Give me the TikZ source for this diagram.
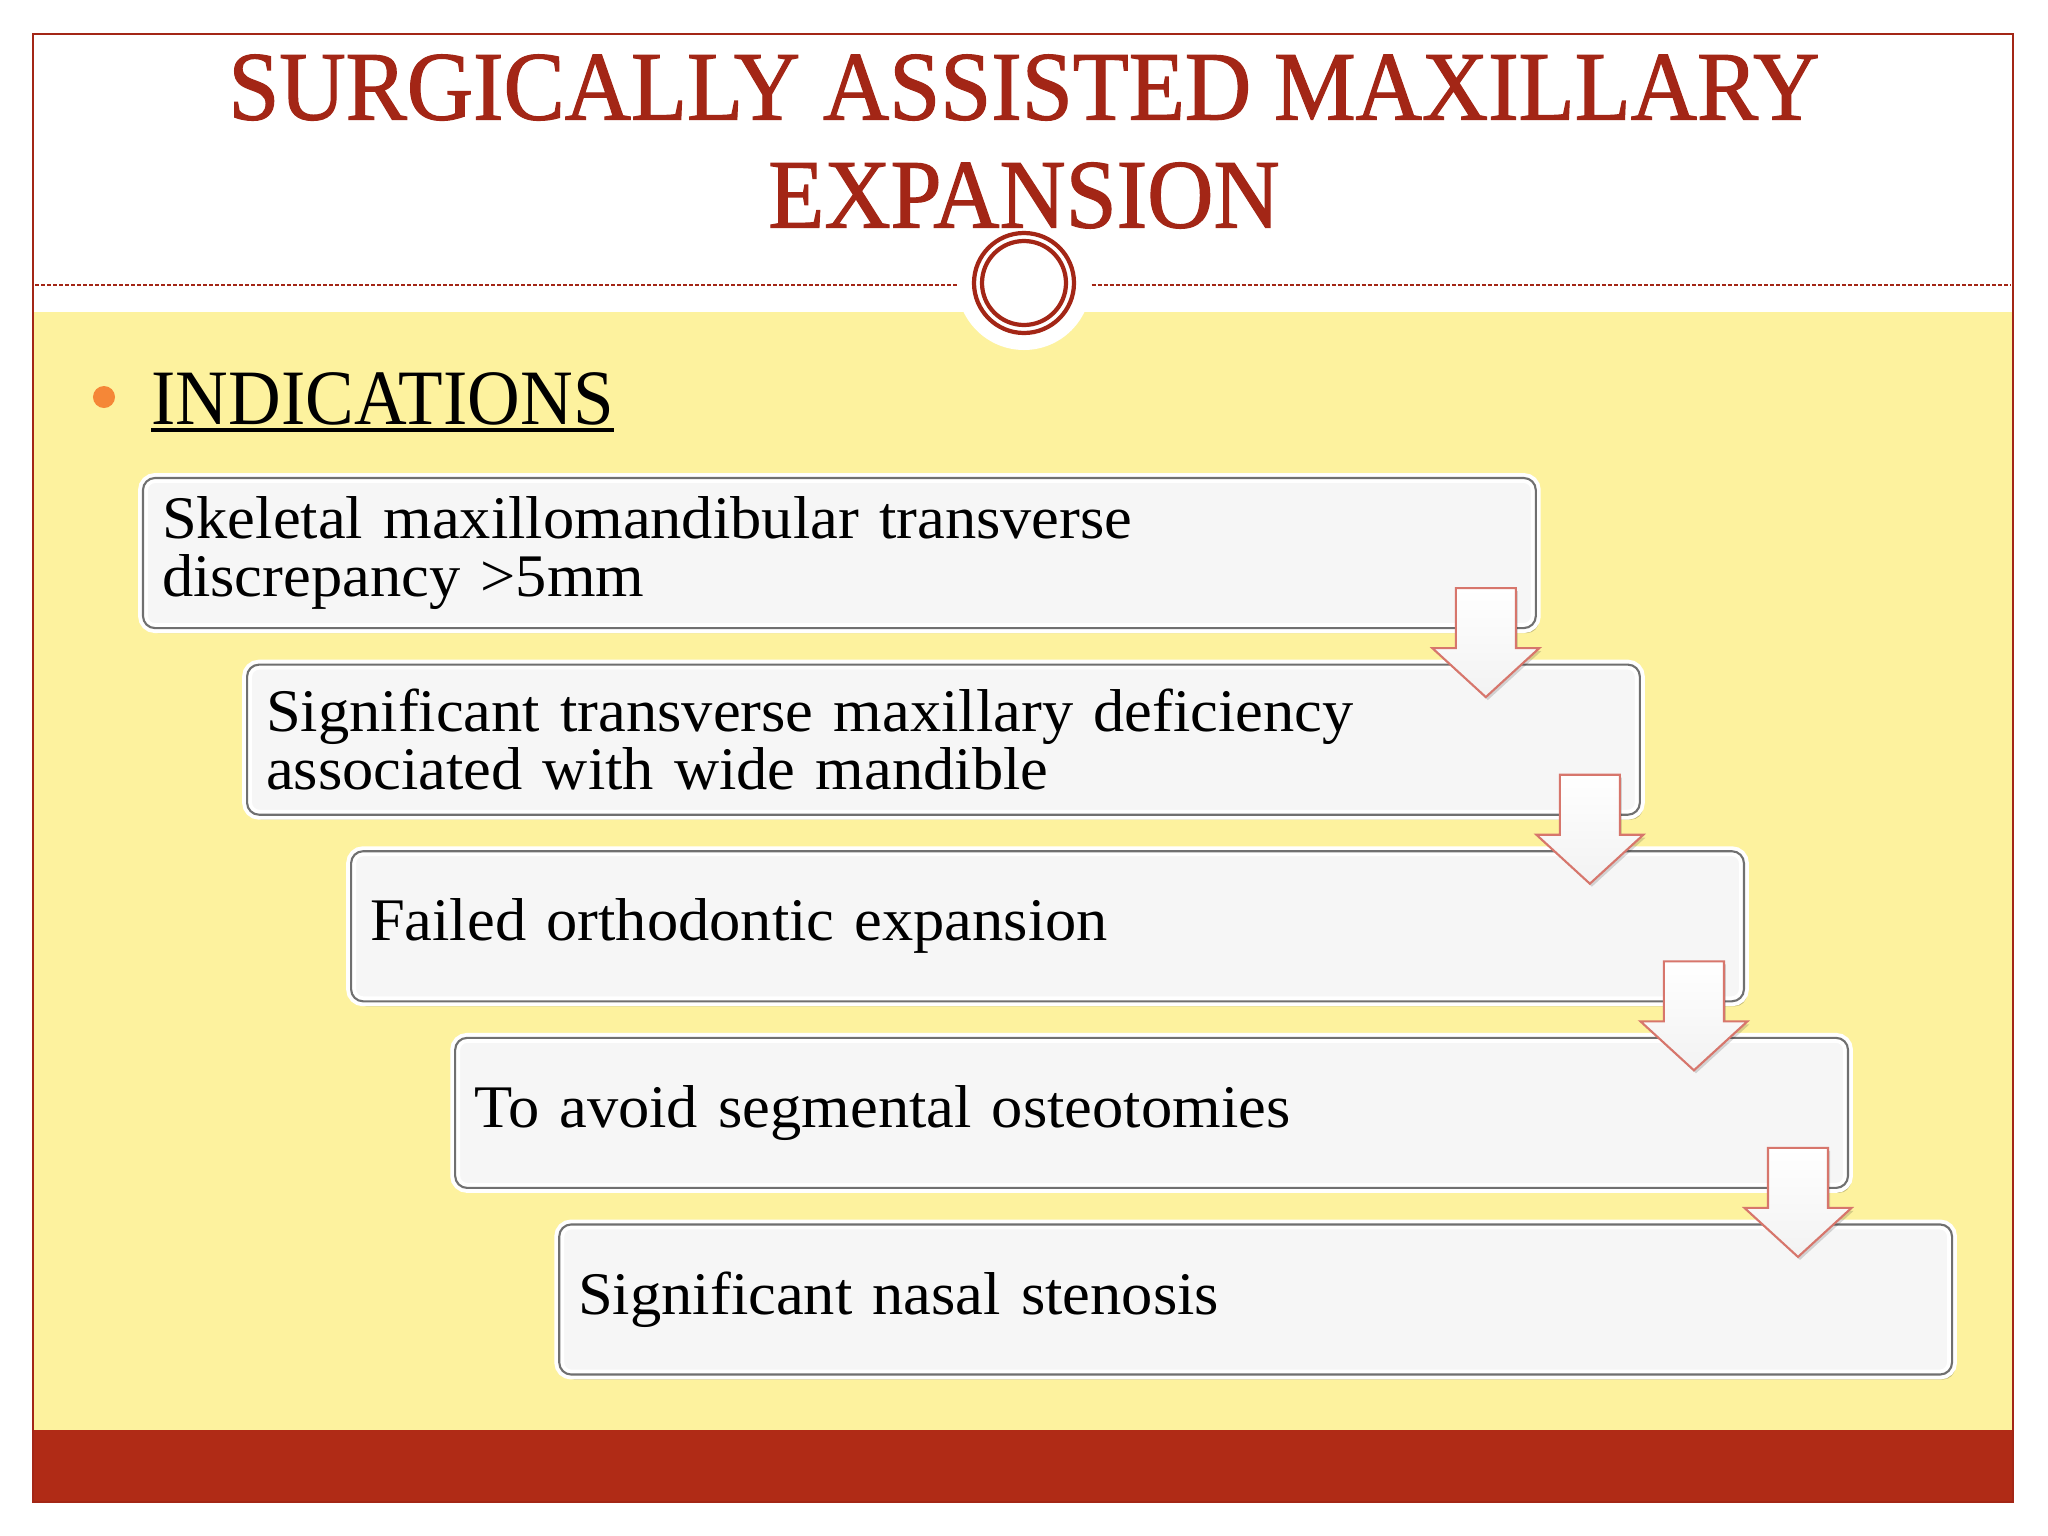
\documentclass[tikz,border=0pt]{standalone}
\usepackage{fontspec}
\setmainfont{Liberation Serif}
\newfontfamily\titlefont[FakeStretch=0.935,FakeBold=1.2]{Liberation Serif}
\newfontfamily\headfont[FakeStretch=0.93]{Liberation Serif}
\newfontfamily\bodyfont[FakeStretch=1.033]{Liberation Serif}
\usetikzlibrary{positioning,calc,shadows}
\definecolor{slidered}{RGB}{163,38,22}
\definecolor{barred}{RGB}{176,43,22}
\definecolor{slideyellow}{RGB}{253,242,158}
\definecolor{dotorange}{RGB}{245,135,55}
\definecolor{boxfill}{RGB}{246,246,246}
\definecolor{boxline}{RGB}{112,112,112}
\definecolor{arrowline}{RGB}{215,118,108}
\lineskiplimit=-10pt

\begin{document}
\begin{tikzpicture}[x=0.01cm,y=-0.01cm,
    stepbox/.style={rectangle,rounded corners=0.12cm,draw=white,double=boxline,double distance=0.6pt,line width=1.1pt,
      fill=boxfill,minimum width=13.92cm,minimum height=1.5cm,text width=13.54cm,inner xsep=0.19cm,inner ysep=0pt,
      outer sep=0pt,align=left,anchor=north west,font=\bodyfont\fontsize{17.2}{16.4}\selectfont,
      drop shadow={shadow xshift=0.03cm,shadow yshift=-0.05cm,opacity=0.22,fill=black}},
    flowarrow/.style={draw=arrowline,line width=0.6pt,top color=white,bottom color=black!5,
      drop shadow={shadow xshift=0.02cm,shadow yshift=-0.03cm,opacity=0.15,fill=black}}]
  \useasboundingbox (0,0) rectangle (2048,1536);
  \fill[white] (0,0) rectangle (2048,1536);
  % slide background
  \fill[slideyellow] (33,312) rectangle (2013,1430);
  \fill[barred] (33,1430) rectangle (2013,1502);
  \draw[slidered,line width=0.6pt] (33,34) rectangle (2013,1502);
  \draw[slidered,line width=0.45pt,dash pattern=on 0.04cm off 0.02cm] (35,285) -- (2011,285);
  \fill[white] (1024,283) circle (67);
  \draw[slidered,line width=1.2pt] (1024,283) circle (50);
  \draw[slidered,line width=1.2pt] (1024,283) circle (42);
  \node[align=center,inner sep=0pt,text=slidered,font=\titlefont\fontsize{27.9}{30.7}\selectfont] (title) at (1024,141.5)
    {SURGICALLY ASSISTED MAXILLARY\\EXPANSION};
  % heading
  \node[circle,fill=dotorange,minimum size=0.22cm,inner sep=0pt] (dot) at (104,397) {};
  \node[anchor=base west,inner sep=0pt,font=\headfont\fontsize{22.3}{24}\selectfont] (indic) at (151,424) {INDICATIONS};
  \draw[line width=1.1pt] ($(indic.base west)+(0,6)$) -- ($(indic.base east)+(0,6)$);
  % steps
  \node[stepbox] (b1) at (143,478) {Skeletal maxillomandibular transverse\\discrepancy >5mm};
  \node[stepbox,below=0.365cm of b1.south west,anchor=north west,xshift=1.04cm] (b2)
    {Significant transverse maxillary deficiency\\associated with wide mandible};
  \node[stepbox,below=0.365cm of b2.south west,anchor=north west,xshift=1.04cm] (b3) {Failed orthodontic expansion};
  \node[stepbox,below=0.365cm of b3.south west,anchor=north west,xshift=1.04cm] (b4) {To avoid segmental osteotomies};
  \node[stepbox,below=0.365cm of b4.south west,anchor=north west,xshift=1.04cm] (b5) {Significant nasal stenosis};
  % arrows between steps
  \draw[flowarrow] ($(b1.south east)+(-80,-40)$) -- ++(60,0) -- ++(0,60) -- ++(23.5,0) -- ++(-53.5,49) -- ++(-53.5,-49) -- ++(23.5,0) -- cycle;
  \draw[flowarrow] ($(b2.south east)+(-80,-40)$) -- ++(60,0) -- ++(0,60) -- ++(23.5,0) -- ++(-53.5,49) -- ++(-53.5,-49) -- ++(23.5,0) -- cycle;
  \draw[flowarrow] ($(b3.south east)+(-80,-40)$) -- ++(60,0) -- ++(0,60) -- ++(23.5,0) -- ++(-53.5,49) -- ++(-53.5,-49) -- ++(23.5,0) -- cycle;
  \draw[flowarrow] ($(b4.south east)+(-80,-40)$) -- ++(60,0) -- ++(0,60) -- ++(23.5,0) -- ++(-53.5,49) -- ++(-53.5,-49) -- ++(23.5,0) -- cycle;
\end{tikzpicture}
\end{document}
